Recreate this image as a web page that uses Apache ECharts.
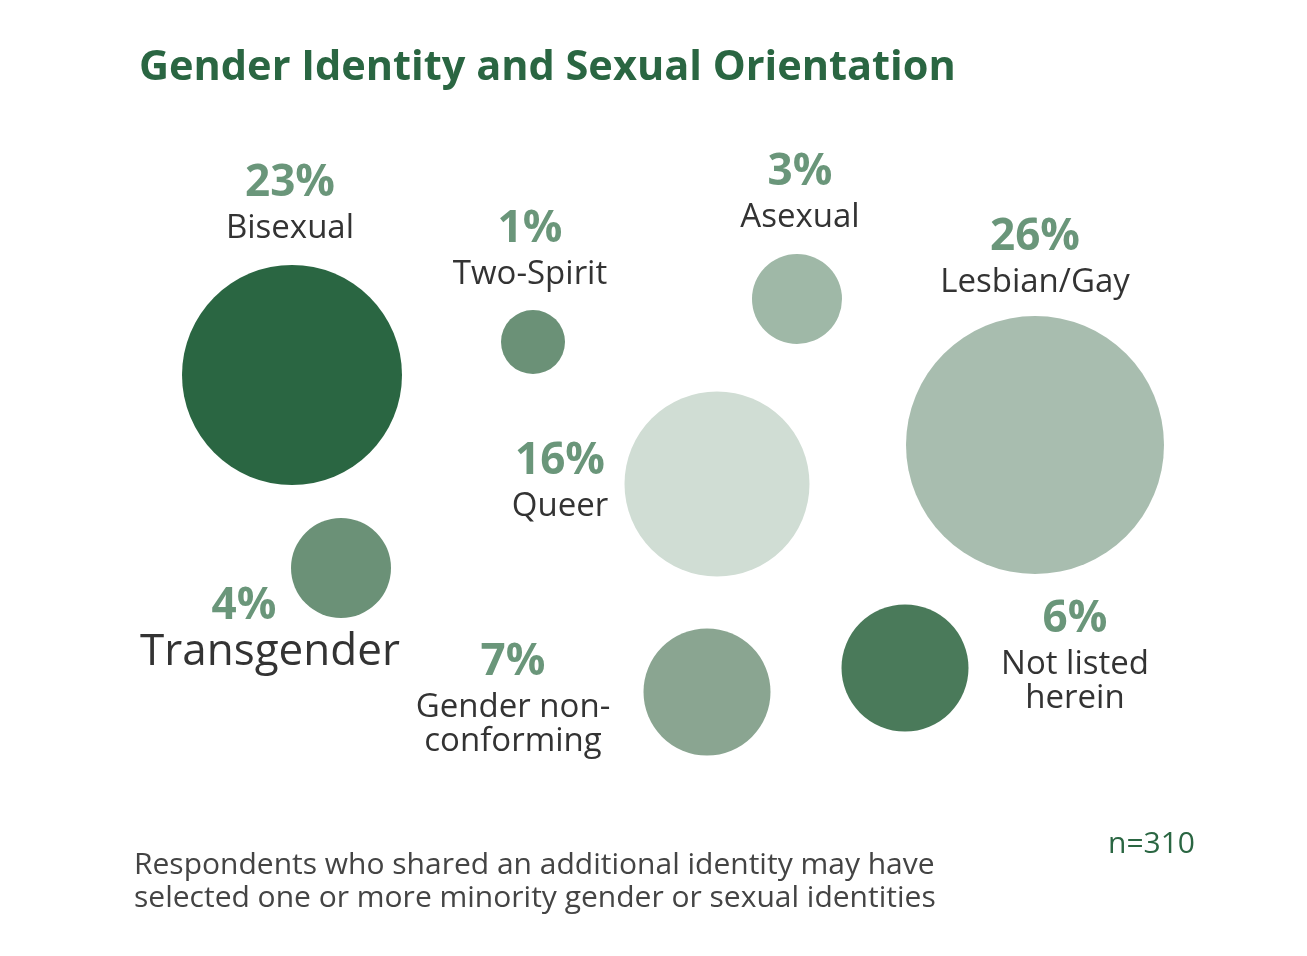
<!DOCTYPE html>
<html>
<head>
<meta charset="utf-8">
<title>Gender Identity and Sexual Orientation</title>
<script src="https://cdn.jsdelivr.net/npm/echarts@6/dist/echarts.min.js"></script>
<style>
  html, body { margin: 0; padding: 0; background: #fff; }
  #chart { width: 1307px; height: 956px; }
</style>
</head>
<body>
<div id="chart"></div>
<script>
// values
const names = ["Bisexual", "Two-Spirit", "Asexual", "Lesbian/Gay", "Queer", "Transgender", "Gender non-\nconforming", "Not listed\nherein"];
const percents = [23, 1, 3, 26, 16, 4, 7, 6];
// bubble centre (x, y) and diameter, in the hidden axis units
const bubbleX = [19.2, 43.3, 69.7, 93.5, 61.7, 24.1, 60.7, 80.5];
const bubbleY = [48.1, 51.4, 55.7, 41.1, 37.2, 28.8, 16.4, 18.8];
const bubbleSize = [22, 6.4, 9, 25.8, 18.5, 10, 12.7, 12.7];

// styling / layout, kept apart from the data
const colors = ["#2a6642", "#6b9177", "#9fb8a7", "#a8bdaf", "#d0ddd4", "#6b9177", "#8aa591", "#4a7a5a"];
const labelOffset = [[-2, -175], [-3, -96], [3, -110], [0, -191], [-157, -6], [-71, 55], [-194, 4], [170, -15]];
const FONT = "'Open Sans', sans-serif";
const pxPerUnit = 10; // grid is 1100 x 700 px for 110 x 70 units

const chart = echarts.init(document.getElementById("chart"));

const richBase = {
  p: { fontFamily: FONT, fontWeight: "bold", fontSize: 44, lineHeight: 58, color: "#6a967a" },
  n: { fontFamily: FONT, fontSize: 33, lineHeight: 34, color: "#333333" },
  big: { fontFamily: FONT, fontSize: 44, lineHeight: 34, color: "#333333" }
};

const seriesData = names.map((name, i) => {
  const isTrans = name === "Transgender";
  const rich = JSON.parse(JSON.stringify(richBase));
  if (isTrans) rich.p.padding = [0, 52, 0, 0];
  const nameTag = isTrans ? "big" : "n";
  return {
    name: name,
    value: [bubbleX[i], bubbleY[i], bubbleSize[i], percents[i]],
    itemStyle: { color: colors[i], opacity: 1 },
    label: {
      show: true,
      position: "inside",
      offset: labelOffset[i],
      align: "center",
      verticalAlign: "middle",
      formatter: "{p|" + percents[i] + "%}\n" +
        name.split("\n").map((s) => "{" + nameTag + "|" + s + "}").join("\n"),
      rich: rich
    }
  };
});

chart.setOption({
  animation: false,
  title: [
    {
      text: "Gender Identity and Sexual Orientation",
      left: 134,
      top: 42,
      textStyle: { fontFamily: FONT, fontWeight: "bold", fontSize: 41.5, color: "#2a6642" }
    },
    {
      text: "Respondents who shared an additional identity may have\nselected one or more minority gender or sexual identities",
      left: 134,
      top: 849,
      padding: 0,
      textStyle: { fontFamily: FONT, fontWeight: "normal", fontSize: 30, lineHeight: 33, color: "#444444" }
    },
    {
      text: "n=310",
      right: 112,
      top: 829,
      padding: 0,
      textStyle: { fontFamily: FONT, fontWeight: "normal", fontSize: 30, color: "#2a6642" }
    }
  ],
  grid: { left: 100, right: 107, top: 156, bottom: 100 },
  xAxis: { type: "value", min: 0, max: 110, show: false },
  yAxis: { type: "value", min: 0, max: 70, show: false },
  series: [
    {
      type: "scatter",
      symbol: "circle",
      symbolSize: (v) => v[2] * pxPerUnit,
      itemStyle: { opacity: 1 },
      emphasis: { disabled: true },
      data: seriesData
    }
  ]
});
</script>
</body>
</html>
